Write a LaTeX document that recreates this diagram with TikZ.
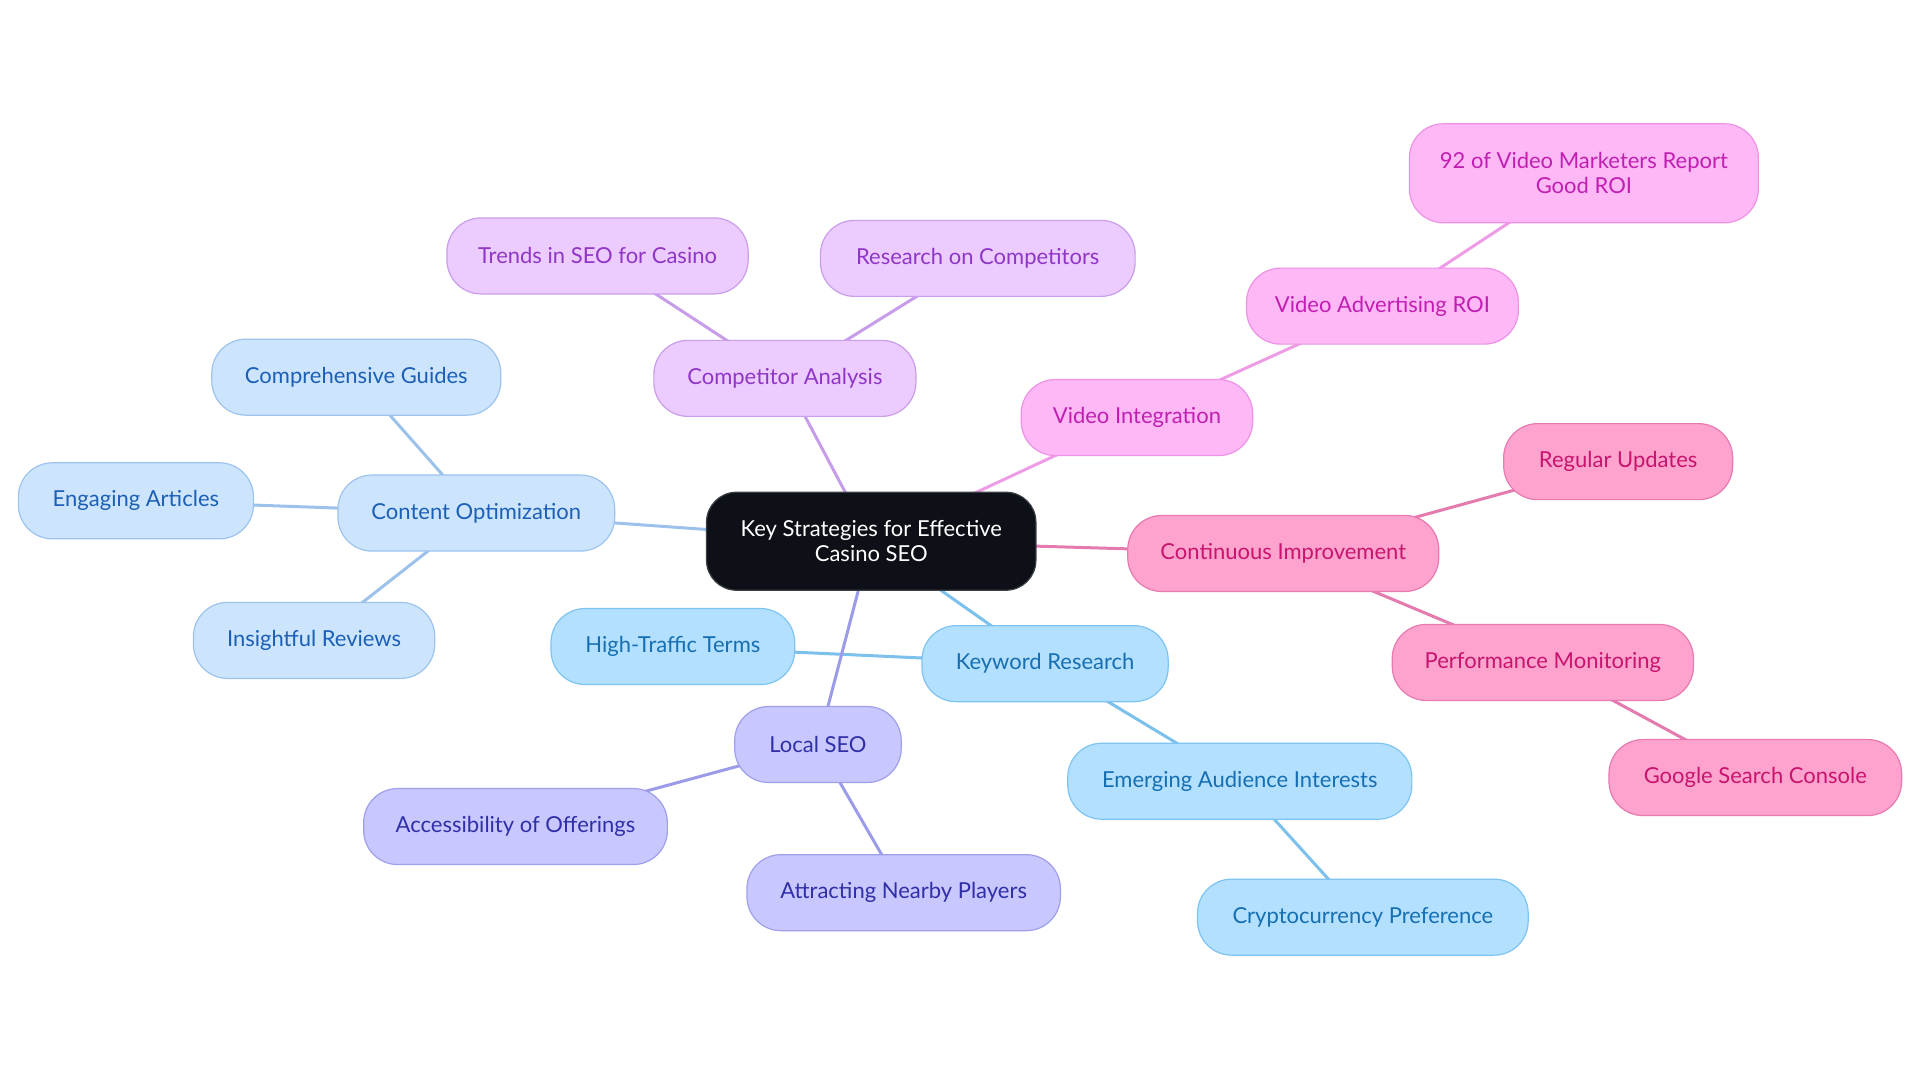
\documentclass[tikz,border=0pt]{standalone}
\usepackage{fontspec}
\setmainfont{Lato}
\pgfdeclarelayer{edges}
\pgfdeclarelayer{bgwhite}
\pgfsetlayers{bgwhite,edges,main}
\definecolor{cen}{HTML}{0D1117}
\definecolor{cenb}{HTML}{3A3F46}
% content (light blue)
\definecolor{cAf}{HTML}{CCE5FD}
\definecolor{cAb}{HTML}{9DC3EE}
\definecolor{cAt}{HTML}{1C5FB6}
\definecolor{cAe}{HTML}{9CC2EC}
% keyword (cyan blue)
\definecolor{cBf}{HTML}{B3E0FE}
\definecolor{cBb}{HTML}{7EC4F2}
\definecolor{cBt}{HTML}{166FB2}
\definecolor{cBe}{HTML}{7CC0EC}
% local (indigo)
\definecolor{cCf}{HTML}{C8C8FE}
\definecolor{cCb}{HTML}{A09FEC}
\definecolor{cCt}{HTML}{302FA8}
\definecolor{cCe}{HTML}{9C9BEA}
% competitor (purple)
\definecolor{cDf}{HTML}{ECCBFE}
\definecolor{cDb}{HTML}{C99EEA}
\definecolor{cDt}{HTML}{9036C6}
\definecolor{cDe}{HTML}{C79CE8}
% video (pink)
\definecolor{cEf}{HTML}{FEB8F6}
\definecolor{cEb}{HTML}{EE92E6}
\definecolor{cEt}{HTML}{C01FB2}
\definecolor{cEe}{HTML}{EE9CE6}
% continuous (rose)
\definecolor{cFf}{HTML}{FEA3CE}
\definecolor{cFb}{HTML}{E87AB0}
\definecolor{cFt}{HTML}{C8146E}
\definecolor{cFe}{HTML}{E47AAE}
\begin{document}
\begin{tikzpicture}[x=1.2245pt,y=-1.2245pt,
  box/.style={rounded corners=34pt, minimum height=76pt, line width=1.2pt,
    align=center, inner sep=0pt, font=\fontsize{22}{25}\selectfont},
  bw/.style={minimum width=#1*1.2245pt},
  gA/.style={box, fill=cAf, draw=cAb, text=cAt},
  gB/.style={box, fill=cBf, draw=cBb, text=cBt},
  gC/.style={box, fill=cCf, draw=cCb, text=cCt},
  gD/.style={box, fill=cDf, draw=cDb, text=cDt},
  gE/.style={box, fill=cEf, draw=cEb, text=cEt},
  gF/.style={box, fill=cFf, draw=cFb, text=cFt},
  eA/.style={line width=3pt, draw=cAe},
  eB/.style={line width=3pt, draw=cBe},
  eC/.style={line width=3pt, draw=cCe},
  eD/.style={line width=3pt, draw=cDe},
  eE/.style={line width=3pt, draw=cEe},
  eF/.style={line width=3pt, draw=cFe}]
\begin{pgfonlayer}{bgwhite}
\fill[white] (0,0) rectangle (1568,884.5);
\end{pgfonlayer}
\useasboundingbox (0,0) rectangle (1568,884.5);

% central
\node[box, bw=269, minimum height=98pt, rounded corners=30pt, fill=cen, draw=cenb, text=white]
  (root) at (711.5,442) {Key Strategies for Effective\\Casino SEO};

% competitor
\node[gD, bw=214] (comp) at (641,309) {Competitor Analysis};
\node[gD, bw=246] (trend) at (488,209) {Trends in SEO for Casino};
\node[gD, bw=257] (rcomp) at (798.5,211) {Research on Competitors};

% content
\node[gA, bw=226] (cont) at (389,419) {Content Optimization};
\node[gA, bw=236] (guide) at (291,308) {Comprehensive Guides};
\node[gA, bw=192] (art) at (111,409) {Engaging Articles};
\node[gA, bw=197] (rev) at (256.5,523) {Insightful Reviews};

% keyword
\node[gB, bw=201] (kw) at (853.5,542) {Keyword Research};
\node[gB, bw=199] (high) at (549.5,528) {High-Traffic Terms};
\node[gB, bw=281] (emer) at (1012.5,638) {Emerging Audience Interests};
\node[gB, bw=270] (crypto) at (1113,749) {Cryptocurrency Preference};

% local
\node[gC, bw=136] (local) at (668,608) {Local SEO};
\node[gC, bw=248] (acc) at (421,675) {Accessibility of Offerings};
\node[gC, bw=256] (attr) at (738,729) {Attracting Nearby Players};

% video
\node[gE, bw=189] (video) at (928.5,341) {Video Integration};
\node[gE, bw=222] (vroi) at (1129,250) {Video Advertising ROI};
\node[gE, bw=285, minimum height=99pt] (ninety) at (1293.5,141.5) {92 of Video Marketers Report\\Good ROI};

% continuous
\node[gF, bw=254] (ci) at (1048,452) {Continuous Improvement};
\node[gF, bw=187] (reg) at (1321.5,377) {Regular Updates};
\node[gF, bw=246] (perf) at (1260,541) {Performance Monitoring};
\node[gF, bw=239] (gsc) at (1433.5,635) {Google Search Console};

\begin{pgfonlayer}{edges}
\draw[eD] (root.center) -- (comp.center);
\draw[eD] (comp.center) -- (trend.center);
\draw[eD] (comp.center) -- (rcomp.center);
\draw[eA] (root.center) -- (cont.center);
\draw[eA] (cont.center) -- (guide.center);
\draw[eA] (cont.center) -- (art.center);
\draw[eA] (cont.center) -- (rev.center);
\draw[eB] (root.center) -- (kw.center);
\draw[eB] (kw.center) -- (high.center);
\draw[eB] (kw.center) -- (emer.center);
\draw[eB] (emer.center) -- (crypto.center);
\draw[eC] (root.center) -- (local.center);
\draw[eC] (local.center) -- (acc.center);
\draw[eC] (local.center) -- (attr.center);
\draw[eE] (root.center) -- (video.center);
\draw[eE] (video.center) -- (vroi.center);
\draw[eE] (vroi.center) -- (ninety.center);
\draw[eF] (root.center) -- (ci.center);
\draw[eF] (ci.center) -- (reg.center);
\draw[eF] (ci.center) -- (perf.center);
\draw[eF] (perf.center) -- (gsc.center);
\end{pgfonlayer}
\end{tikzpicture}
\end{document}
